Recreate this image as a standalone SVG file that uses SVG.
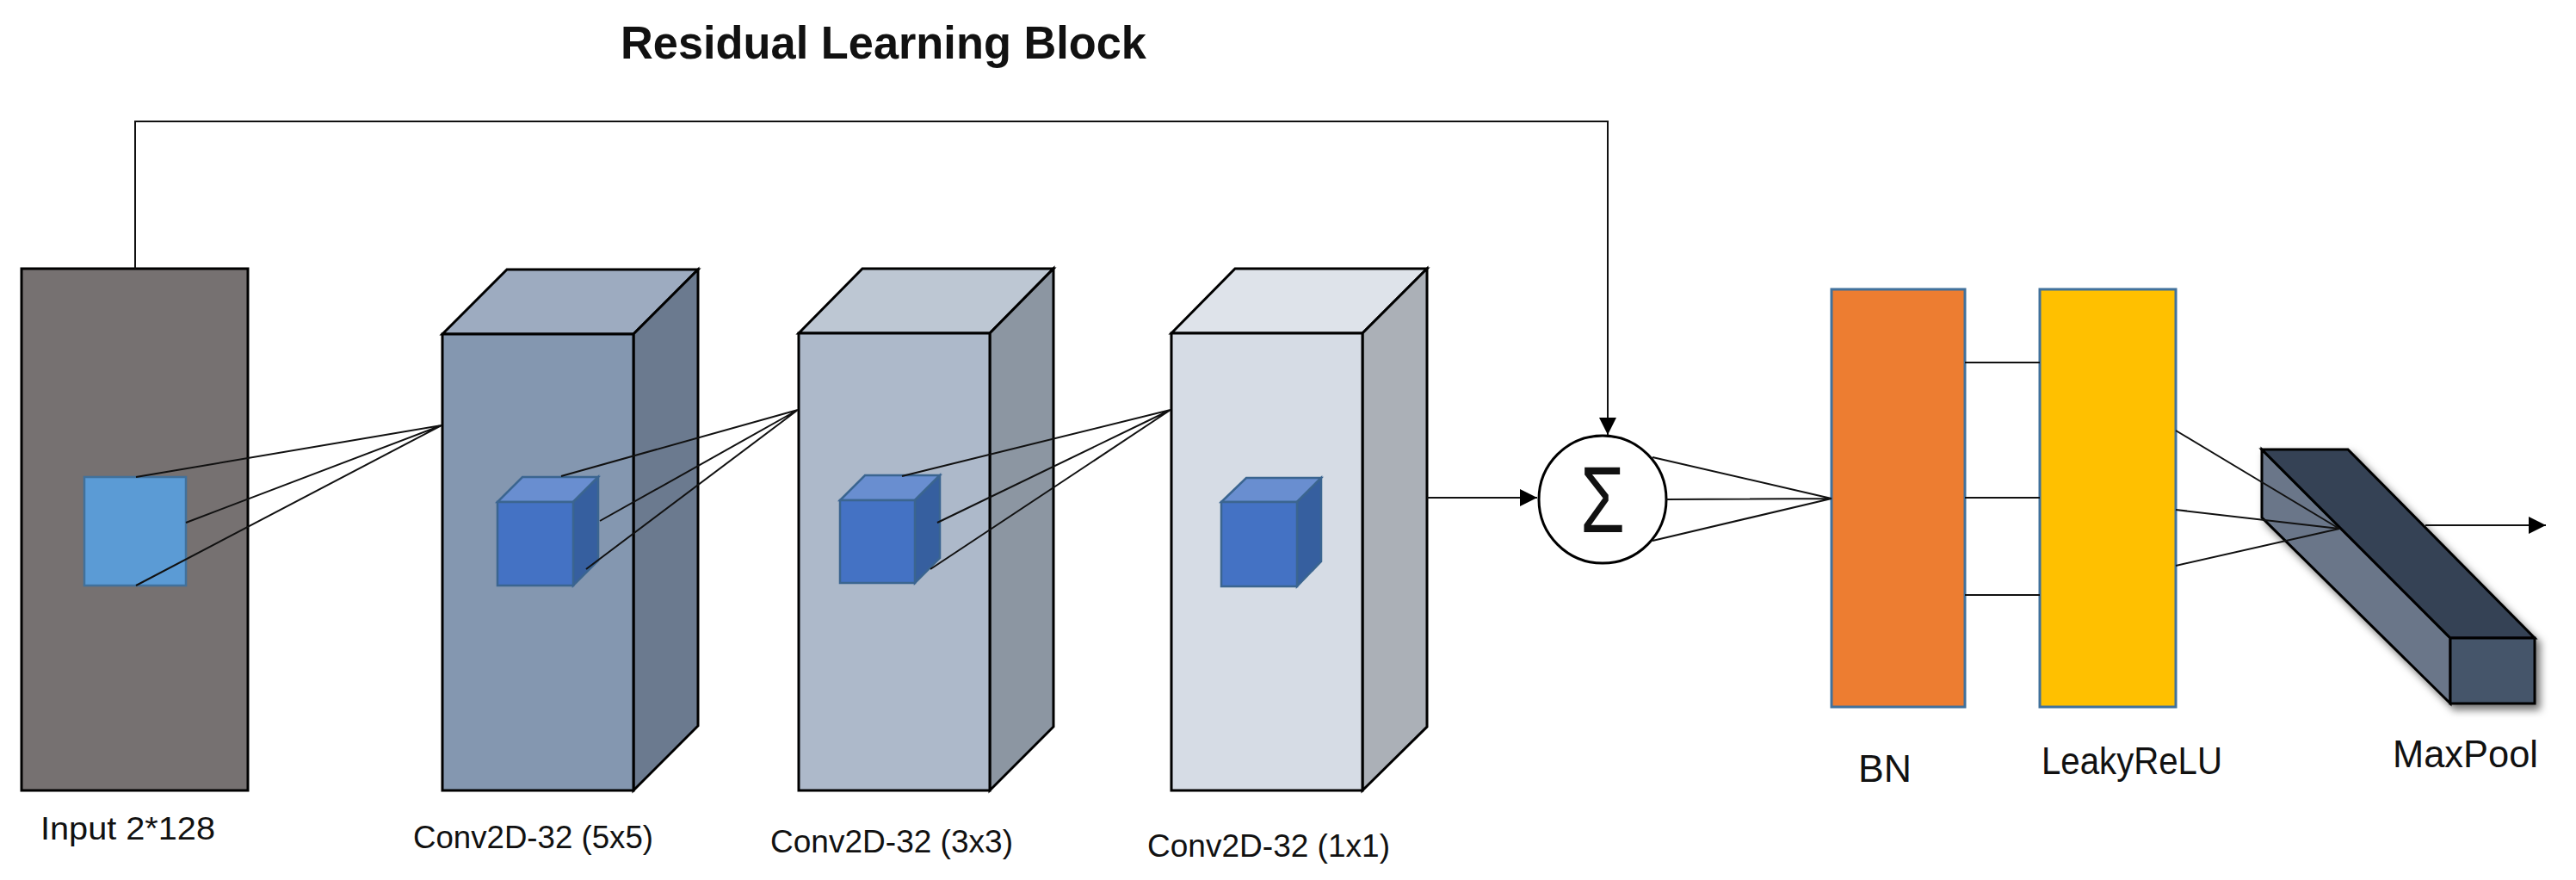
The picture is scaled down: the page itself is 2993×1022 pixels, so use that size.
<svg xmlns="http://www.w3.org/2000/svg" width="2993" height="1022" viewBox="0 0 2993 1022">
<style>
.edge{stroke:#000;stroke-width:3;stroke-linejoin:miter}
.cube{stroke:#3B6590;stroke-width:2.5}
.conn{fill:none;stroke:#111;stroke-width:2}
.lbl{font-family:"Liberation Sans",Arial,sans-serif;fill:#111}
</style>
<defs>
<marker id="ah" markerWidth="22" markerHeight="22" refX="20" refY="10" orient="auto" markerUnits="userSpaceOnUse"><path d="M0,0 L20,10 L0,20 z" fill="#000"/></marker>
<filter id="sh" x="-20%" y="-20%" width="150%" height="150%"><feDropShadow dx="5" dy="6" stdDeviation="5" flood-color="#000" flood-opacity="0.55"/></filter>
</defs>
<rect width="2993" height="1022" fill="#fff"/>
<text class="lbl" x="721" y="68" font-size="54" font-weight="bold" textLength="611" lengthAdjust="spacingAndGlyphs">Residual Learning Block</text>

<g id="input">
<rect class="edge" x="25" y="312" width="263" height="606" fill="#767171"/>
<rect x="98" y="554" width="118" height="126" fill="#5B9BD5" stroke="#41719C" stroke-width="2.5"/>
<text class="lbl" x="47" y="975" font-size="36" textLength="203" lengthAdjust="spacingAndGlyphs">Input 2*128</text>
</g>

<g id="conv1">
<path class="edge" d="M514,388 L589,313 L811,313 L736,388 Z" fill="#9DABC0"/>
<path class="edge" d="M736,388 L811,313 L811,843 L736,918 Z" fill="#6B7A8F"/>
<rect class="edge" x="514" y="388" width="222" height="530" fill="#8497B0"/>
<path class="cube" d="M578,583 L607,554 L695,554 L666,583 Z" fill="#698ED0"/>
<path class="cube" d="M666,583 L695,554 L695,651 L666,680 Z" fill="#365F9F"/>
<rect class="cube" x="578" y="583" width="88" height="97" fill="#4472C4"/>
<text class="lbl" x="480" y="985" font-size="36" textLength="279" lengthAdjust="spacingAndGlyphs">Conv2D-32 (5x5)</text>
</g>

<g id="conv2">
<path class="edge" d="M928,387 L1002,312 L1224,312 L1150,387 Z" fill="#BDC7D3"/>
<path class="edge" d="M1150,387 L1224,312 L1224,844 L1150,918 Z" fill="#8C96A2"/>
<rect class="edge" x="928" y="387" width="222" height="531" fill="#ADB9CA"/>
<path class="cube" d="M976,581 L1005,552 L1092,552 L1063,581 Z" fill="#698ED0"/>
<path class="cube" d="M1063,581 L1092,552 L1092,648 L1063,677 Z" fill="#365F9F"/>
<rect class="cube" x="976" y="581" width="87" height="96" fill="#4472C4"/>
<text class="lbl" x="895" y="990" font-size="36" textLength="282" lengthAdjust="spacingAndGlyphs">Conv2D-32 (3x3)</text>
</g>

<g id="conv3">
<path class="edge" d="M1361,387 L1435,312 L1658,312 L1583,387 Z" fill="#DEE3EA"/>
<path class="edge" d="M1583,387 L1658,312 L1658,844 L1583,918 Z" fill="#ABB0B7"/>
<rect class="edge" x="1361" y="387" width="222" height="531" fill="#D6DCE5"/>
<path class="cube" d="M1419,583 L1448,555 L1535,555 L1507,583 Z" fill="#698ED0"/>
<path class="cube" d="M1507,583 L1535,555 L1535,652 L1507,681 Z" fill="#365F9F"/>
<rect class="cube" x="1419" y="583" width="88" height="98" fill="#4472C4"/>
<text class="lbl" x="1333" y="995" font-size="36" textLength="282" lengthAdjust="spacingAndGlyphs">Conv2D-32 (1x1)</text>
</g>

<g id="sum">
<circle cx="1862" cy="580" r="74" fill="#fff" stroke="#000" stroke-width="3"/>
<text class="lbl" x="1836" y="618" font-size="109" textLength="52" lengthAdjust="spacingAndGlyphs" fill="#000">Σ</text>
</g>

<g id="bn">
<rect x="2128" y="336" width="155" height="485" fill="#ED7D31" stroke="#41719C" stroke-width="3"/>
<text class="lbl" x="2159" y="908" font-size="45" textLength="62" lengthAdjust="spacingAndGlyphs">BN</text>
</g>

<g id="leakyrelu">
<rect x="2370" y="336" width="158" height="485" fill="#FFC000" stroke="#41719C" stroke-width="3"/>
<text class="lbl" x="2372" y="899" font-size="45" textLength="210" lengthAdjust="spacingAndGlyphs">LeakyReLU</text>
</g>

<g id="maxpool">
<g filter="url(#sh)">
<path class="edge" d="M2628,522 L2847,741 L2847,817 L2628,601 Z" fill="#6A7689"/>
<path class="edge" d="M2628,522 L2728,522 L2945,741 L2847,741 Z" fill="#354254"/>
<rect class="edge" x="2847" y="741" width="98" height="76" fill="#44546A"/>
</g>
<text class="lbl" x="2780" y="891" font-size="45" textLength="169" lengthAdjust="spacingAndGlyphs">MaxPool</text>
</g>

<g id="connectors">
<path class="conn" d="M157,312 V141 H1868 V505" marker-end="url(#ah)"/>
<path class="conn" d="M158,554 L513,494 M216,607 L513,494 M158,680 L513,494"/>
<path class="conn" d="M652,553 L927,476 M697,605 L927,476 M681,661 L927,476"/>
<path class="conn" d="M1048,553 L1360,476 M1089,607 L1360,476 M1081,661 L1360,476"/>
<path class="conn" d="M1658,578 L1786,578" marker-end="url(#ah)"/>
<path class="conn" d="M1920,531 L2128,579 M1936,580 L2128,579 M1920,628 L2128,579"/>
<path class="conn" d="M2283,421 H2370 M2283,578 H2370 M2283,691 H2370"/>
<path class="conn" d="M2528,500 L2718,614 M2528,592 L2718,614 M2528,657 L2718,614"/>
<path class="conn" d="M2818,610 L2958,610" marker-end="url(#ah)"/>
</g>
</svg>
